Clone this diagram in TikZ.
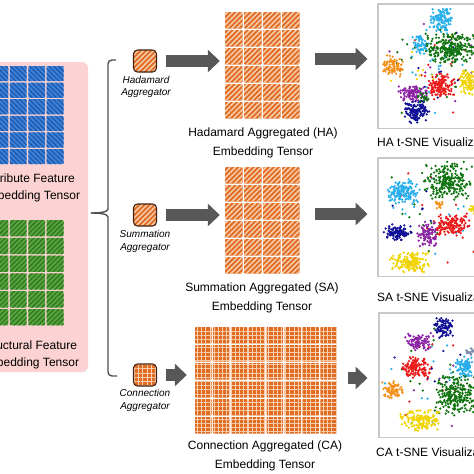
\documentclass[tikz,border=0pt]{standalone}
\usepackage{fontspec}
\setmainfont{Liberation Sans}
\usetikzlibrary{patterns.meta,arrows.meta}
\definecolor{torange}{RGB}{224,108,36}
\definecolor{tstripe}{RGB}{248,206,172}
\definecolor{tblue}{RGB}{60,130,215}
\definecolor{tbluestr}{RGB}{30,88,175}
\definecolor{tgreen}{RGB}{88,165,60}
\definecolor{tgreenstr}{RGB}{48,118,36}
\definecolor{pinkpanel}{RGB}{252,210,210}
\definecolor{arrowgray}{RGB}{88,88,88}
\definecolor{iconborder}{RGB}{70,35,15}
\definecolor{bracketgray}{RGB}{80,80,80}
\definecolor{vizborder}{RGB}{200,200,200}
\definecolor{scyan}{RGB}{40,175,235}
\definecolor{sgreen}{RGB}{15,115,15}
\definecolor{sorange}{RGB}{245,145,25}
\definecolor{syellow}{RGB}{240,212,0}
\definecolor{sred}{RGB}{235,25,25}
\definecolor{spurple}{RGB}{140,35,165}
\definecolor{snavy}{RGB}{15,15,150}
\definecolor{sgray}{RGB}{120,140,175}
\newcommand\tsnecl[6]{%
  \foreach \k in {1,...,#5}{%
    \pgfmathsetmacro\ddx{#3*(rand+rand)/2}%
    \pgfmathsetmacro\ddy{#4*(rand+rand)/2}%
    \fill[#6] ({#1+\ddx},{#2+\ddy}) circle (1.25pt);
  }}
\begin{document}
\begin{tikzpicture}[x=1pt,y=-1pt,
  captxt/.style={align=center, font=\fontsize{12}{17.5}\selectfont, inner sep=0pt},
  tentxt/.style={align=center, font=\fontsize{12}{19}\selectfont, inner sep=0pt},
  agglab/.style={align=center, font=\itshape\fontsize{10}{12.5}\selectfont, inner sep=0pt},
  vizlab/.style={anchor=west, font=\fontsize{12}{14}\selectfont, inner sep=0pt},
  bluecell/.style={preaction={fill=tblue}, pattern={Lines[angle=135,distance=3.4pt,line width=1.3pt]}, pattern color=tbluestr, rounded corners=0.8pt},
  greencell/.style={preaction={fill=tgreen}, pattern={Lines[angle=45,distance=3.4pt,line width=1.3pt]}, pattern color=tgreenstr, rounded corners=0.8pt},
  stripecell/.style={preaction={fill=torange}, pattern={Lines[angle=45,distance=3.6pt,line width=1.5pt]}, pattern color=tstripe, rounded corners=0.8pt},
  dotcell/.style={preaction={fill=torange}, pattern={Hatch[angle=0,distance=4.2pt,line width=1pt]}, pattern color=tstripe, rounded corners=0.8pt},
  icon/.style={draw=iconborder, line width=1.1pt, rounded corners=4pt, minimum width=23pt, minimum height=22pt, inner sep=0pt},
  stripeicon/.style={icon, preaction={fill=torange}, pattern={Lines[angle=45,distance=3.6pt,line width=1.5pt]}, pattern color=tstripe},
  doticon/.style={icon, preaction={fill=torange}, pattern={Hatch[angle=0,distance=4.2pt,line width=1pt]}, pattern color=tstripe},
  tensorbox/.style={inner sep=0pt, draw=none},
  vizbox/.style={draw=vizborder, line width=0.9pt, fill=white, inner sep=0pt, minimum width=104pt},
  blockarrow/.style={draw=arrowgray, line width=11.5pt, -{Triangle[length=12pt,width=22pt]}},
  bracket/.style={draw=bracketgray, line width=1.4pt, rounded corners=4pt}
]
\useasboundingbox (0,0) rectangle (474,474);
\fill[white] (0,0) rectangle (474,474);
\pgfmathsetseed{7}

% left panel
\node[fill=pinkpanel, rounded corners=6pt, minimum width=98pt, minimum height=310pt, inner sep=0pt] (panel) at (39,217) {};
\foreach \c in {0,...,3}{\foreach \r in {0,...,5}{
  \fill[bluecell] ({-8.5+18.4*\c},{66+16.6*\r}) rectangle ++(16.8,15.2);
}}
\node[tensorbox, minimum width=73pt, minimum height=100pt] (bluegrid) at (28,116) {};
\node[captxt] (attrtxt) at (30,188) {Attribute Feature\\Embedding Tensor};
\foreach \c in {0,...,3}{\foreach \r in {0,...,5}{
  \fill[greencell] ({-8.5+18.4*\c},{220+17.8*\r}) rectangle ++(16.8,16.3);
}}
\node[tensorbox, minimum width=73pt, minimum height=107pt] (greengrid) at (28,273.5) {};
\node[captxt] (structtxt) at (29,355) {Structural Feature\\Embedding Tensor};

% bracket
\coordinate (btop) at (116,60);
\coordinate (bmid) at (91,213);
\coordinate (bbot) at (117,376);
\draw[bracket] (btop) -- (108,60) -- (108,205) to[out=-90,in=0] (bmid);
\draw[bracket] (bmid) to[out=0,in=90] (108,221) -- (108,376) -- (bbot);

% aggregators
\node[stripeicon] (hicon) at (145,61) {};
\node[agglab] (hlab) at (146,87) {Hadamard\\Aggregator};
\node[stripeicon] (sicon) at (145,215) {};
\node[agglab] (slab) at (145,241.5) {Summation\\Aggregator};
\node[doticon] (cicon) at (145,375) {};
\node[agglab] (clab) at (145,400.5) {Connection\\Aggregator};

% HA tensor
\foreach \c in {0,...,3}{\foreach \r in {0,...,5}{
  \fill[stripecell] ({225+19*\c},{12+18*\r}) rectangle ++(17.5,16.5);
}}
\node[tensorbox, minimum width=77pt, minimum height=108pt] (hten) at (263.5,66) {};
\node[tentxt] (htxt) at (263,142.5) {Hadamard Aggregated (HA)\\Embedding Tensor};

% SA tensor
\foreach \c in {0,...,3}{\foreach \r in {0,...,5}{
  \fill[stripecell] ({225+19*\c},{167+18*\r}) rectangle ++(17.5,16.5);
}}
\node[tensorbox, minimum width=77pt, minimum height=108pt] (sten) at (263.5,221) {};
\node[tentxt] (stxt) at (262,297.5) {Summation Aggregated (SA)\\Embedding Tensor};

% CA tensor
\foreach \c in {0,...,7}{\foreach \r in {0,...,5}{
  \fill[dotcell] ({195+17.9*\c},{327+18*\r}) rectangle ++(16.5,16.5);
}}
\node[tensorbox, minimum width=143pt, minimum height=108pt] (cten) at (266.5,381) {};
\node[tentxt] (ctxt) at (265,456) {Connection Aggregated (CA)\\Embedding Tensor};

% t-SNE boxes
\node[vizbox, minimum height=124pt] (hviz) at (430,66) {};
\node[vizbox, minimum height=118pt] (sviz) at (430,217) {};
\node[vizbox, minimum height=124pt] (cviz) at (431,375) {};

\begin{scope}
\clip (hviz.north west) rectangle (hviz.south east);
\tsnecl{430}{66}{50}{55}{20}{scyan}
\tsnecl{430}{66}{50}{55}{20}{sgreen}
\tsnecl{430}{66}{50}{55}{14}{sred}
\tsnecl{430}{66}{50}{55}{12}{spurple}
\tsnecl{430}{66}{50}{55}{10}{snavy}
\tsnecl{430}{66}{50}{55}{10}{syellow}
\tsnecl{441}{20}{13}{14}{120}{scyan}
\tsnecl{420}{45}{10}{12}{60}{scyan}
\tsnecl{450}{48}{28}{19}{260}{sgreen}
\tsnecl{393}{66}{11}{12}{90}{sorange}
\tsnecl{469}{82}{10}{14}{90}{syellow}
\tsnecl{442}{86}{15}{14}{140}{sred}
\tsnecl{413}{93}{16}{9}{110}{spurple}
\tsnecl{422}{98}{7}{6}{20}{sgreen}
\tsnecl{416}{112}{14}{12}{130}{snavy}
\end{scope}
\draw[draw=vizborder, line width=0.9pt] (hviz.north west) rectangle (hviz.south east);

\begin{scope}
\clip (sviz.north west) rectangle (sviz.south east);
\tsnecl{430}{215}{50}{50}{14}{scyan}
\tsnecl{430}{215}{50}{50}{14}{sgreen}
\tsnecl{430}{215}{50}{50}{10}{sred}
\tsnecl{430}{215}{50}{50}{8}{snavy}
\tsnecl{448}{181}{26}{21}{240}{sgreen}
\tsnecl{403}{192}{18}{14}{160}{scyan}
\tsnecl{452}{225}{19}{12}{150}{sred}
\tsnecl{428}{235}{11}{14}{90}{spurple}
\tsnecl{397}{233}{15}{8}{110}{snavy}
\tsnecl{410}{262}{21}{12}{170}{syellow}
\tsnecl{440}{205}{6}{5}{20}{sorange}
\tsnecl{472}{210}{4}{5}{14}{syellow}
\end{scope}
\draw[draw=vizborder, line width=0.9pt] (sviz.north west) rectangle (sviz.south east);

\begin{scope}
\clip (cviz.north west) rectangle (cviz.south east);
\tsnecl{431}{375}{50}{55}{16}{sgreen}
\tsnecl{431}{375}{50}{55}{12}{scyan}
\tsnecl{431}{375}{50}{55}{10}{sred}
\tsnecl{431}{375}{50}{55}{8}{snavy}
\tsnecl{431}{375}{50}{55}{8}{spurple}
\tsnecl{443}{327}{11}{11}{90}{snavy}
\tsnecl{418}{342}{15}{10}{100}{spurple}
\tsnecl{416}{367}{16}{12}{130}{sred}
\tsnecl{392}{390}{11}{9}{80}{sorange}
\tsnecl{466}{367}{12}{12}{100}{scyan}
\tsnecl{470}{352}{5}{5}{18}{sgray}
\tsnecl{455}{395}{24}{21}{240}{sgreen}
\tsnecl{420}{420}{21}{12}{160}{syellow}
\end{scope}
\draw[draw=vizborder, line width=0.9pt] (cviz.north west) rectangle (cviz.south east);

\node[vizlab] (hvt) at (377,142) {HA t-SNE Visualization};
\node[vizlab] (svt) at (377,297) {SA t-SNE Visualization};
\node[vizlab] (cvt) at (376,452) {CA t-SNE Visualization};

% arrows
\draw[blockarrow] ([xshift=9pt]hicon.east) -- ([xshift=-5pt]hicon.east -| hten.west);
\draw[blockarrow] ([xshift=9pt]sicon.east) -- ([xshift=-5pt]sicon.east -| sten.west);
\draw[blockarrow] ([xshift=9pt]cicon.east) -- ([xshift=-8pt]cicon.east -| cten.west);
\draw[blockarrow] ([xshift=13pt,yshift=7pt]hten.east) -- ([xshift=-10pt,yshift=7pt]hten.east -| hviz.west);
\draw[blockarrow] ([xshift=13pt,yshift=7pt]sten.east) -- ([xshift=-10pt,yshift=7pt]sten.east -| sviz.west);
\draw[blockarrow] ([xshift=10pt,yshift=3pt]cten.east) -- ([xshift=-11pt,yshift=3pt]cten.east -| cviz.west);
\end{tikzpicture}
\end{document}
